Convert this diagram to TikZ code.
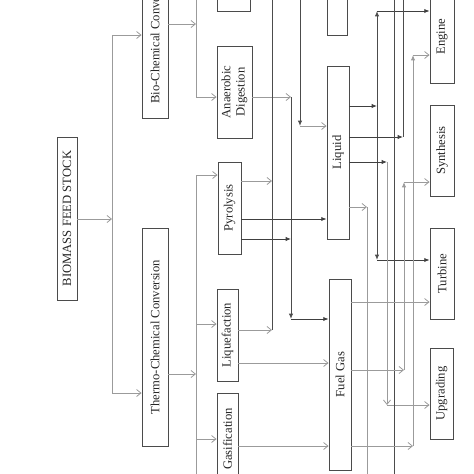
\documentclass[tikz,border=0pt]{standalone}
\usepackage{fontspec}
\setmainfont{Liberation Serif}
\usetikzlibrary{arrows.meta, positioning}
\definecolor{linegray}{RGB}{155, 155, 155}
\definecolor{boxgray}{RGB}{75, 75, 75}

\begin{document}
\begin{tikzpicture}[x=0.02cm, y=-0.02cm,
  box/.style={draw=boxgray, line width=0.5pt, rotate=90, inner sep=0pt, align=center,
              font=\fontsize{7.2}{8}\selectfont, text=black!85},
  garr/.style={draw=linegray, line width=0.45pt, -{Straight Barb[length=2.5pt, width=4pt]}},
  barr/.style={draw=black!75, line width=0.45pt, -{Latex[length=3pt, width=2.4pt]}},
  gline/.style={draw=linegray, line width=0.45pt},
  bline/.style={draw=black!70, line width=0.5pt},
  tipb/.style={-{Latex[length=3pt, width=2.4pt]}},
]
\useasboundingbox (0,0) rectangle (474,474);
\clip (0,0) rectangle (474,474);

% Feed stock and conversion routes
\node[box, minimum width=3.26cm, minimum height=0.4cm] (feed) at (67,218.5) {BIOMASS FEED STOCK};
\node[box, minimum width=3.22cm, minimum height=0.52cm] (bio) at (155,37.5) {Bio-Chemical Conversion};
\node[box, minimum width=4.36cm, minimum height=0.52cm] (thermo) at (155,337) {Thermo-Chemical Conversion};

% Processes
\node[box, minimum width=1.84cm, minimum height=0.66cm] (ferm) at (233.5,-35) {};
\node[box, minimum width=1.84cm, minimum height=0.7cm] (anaer) at (234.5,92) {Anaerobic\\Digestion};
\node[box, minimum width=1.84cm, minimum height=0.46cm] (pyro) at (229.5,208) {Pyrolysis};
\node[box, minimum width=1.84cm, minimum height=0.42cm] (liquef) at (227.5,335) {Liquefaction};
\node[box, minimum width=1.84cm, minimum height=0.42cm] (gasif) at (227.5,439) {Gasification};

% Intermediate products
\node[box, minimum width=1.84cm, minimum height=0.4cm] (liqtop) at (337,-11) {};
\node[box, minimum width=3.46cm, minimum height=0.44cm] (liquid) at (338,152.5) {Liquid};
\node[box, minimum width=3.82cm, minimum height=0.44cm] (fuel) at (340,374.5) {Fuel Gas};

% End uses
\node[box, minimum width=1.86cm, minimum height=0.48cm] (engine) at (442,36.5) {Engine};
\node[box, minimum width=1.82cm, minimum height=0.48cm] (synth) at (442,150.5) {Synthesis};
\node[box, minimum width=1.82cm, minimum height=0.48cm] (turbine) at (442,273.5) {Turbine};
\node[box, minimum width=1.82cm, minimum height=0.46cm] (upgrad) at (441.5,393.5) {Upgrading};

% Junctions
\coordinate (fs) at (112,219);  \coordinate (fsT) at (112,35);  \coordinate (fsB) at (112,393);
\coordinate (bb) at (196,24);   \coordinate (bbT) at (196,-35); \coordinate (bbB) at (196,97);
\coordinate (tb) at (196,374);  \coordinate (tbT) at (196,175); \coordinate (tbM) at (196,324);
\coordinate (tbB) at (196,439); \coordinate (tbE) at (196,500);
\coordinate (ad) at (291,97);   \coordinate (adB) at (291,319);
\coordinate (py) at (272,181);  \coordinate (pyT) at (272,-60); \coordinate (pyB) at (272,330);
\coordinate (lqT) at (300,-60); \coordinate (lq) at (300,126);
\coordinate (l1) at (377,106);  \coordinate (l1T) at (377,11);  \coordinate (l1B) at (377,260);
\coordinate (l2) at (403,137);  \coordinate (l2T) at (403,-60);
\coordinate (l3) at (387,162);  \coordinate (l3B) at (387,405);
\coordinate (l4) at (367,207);  \coordinate (l4B) at (367,500);
\coordinate (mT) at (394,-60);  \coordinate (mB) at (394,500);
\coordinate (f1) at (404,370);  \coordinate (f1T) at (404,182);
\coordinate (f2) at (413,446);  \coordinate (f2T) at (413,55);

% Feed stock to routes
\draw[garr] (feed.south |- fs) -- (fs);
\draw[gline] (fsT) -- (fsB);
\draw[garr] (fsT) -- (bio.north |- fsT);
\draw[garr] (fsB) -- (thermo.north |- fsB);

% Routes to processes
\draw[garr] (bio.south |- bb) -- (bb);
\draw[gline] (bbT) -- (bbB);
\draw[garr] (bbT) -- (ferm.north |- bbT);
\draw[garr] (bbB) -- (anaer.north |- bbB);
\draw[garr] (thermo.south |- tb) -- (tb);
\draw[gline] (tbT) -- (tbE);
\draw[garr] (tbT) -- (pyro.north |- tbT);
\draw[garr] (tbM) -- (liquef.north |- tbM);
\draw[garr] (tbB) -- (gasif.north |- tbB);

% Processes to products
\draw[garr] (anaer.south |- ad) -- (ad);
\draw[bline, tipb] (ad) -- (adB);
\draw[barr] (adB) -- (fuel.north |- adB);
\draw[barr] (pyro.south |- 0,239) -- (ad |- 0,239);
\draw[barr] (pyro.south |- 0,219) -- (liquid.north |- 0,219);
\draw[garr] (pyro.south |- py) -- (py);
\draw[bline] (pyT) -- (pyB);
\draw[garr] (liquef.south |- pyB) -- (pyB);
\draw[bline, tipb] (lqT) -- (lq);
\draw[garr] (lq) -- (liquid.north |- lq);
\draw[garr] (liquef.south |- 0,363) -- (fuel.north |- 0,363);
\draw[garr] (gasif.south |- 0,446) -- (fuel.north |- 0,446);

% Liquid to end uses
\draw[barr] (liquid.south |- l1) -- (l1);
\draw[bline, tipb] (l1) -- (l1T);
\draw[bline, tipb] (l1) -- (l1B);
\draw[barr] (l1T) -- (engine.north |- l1T);
\draw[barr] (l1B) -- (turbine.north |- l1B);
\draw[barr] (liquid.south |- l2) -- (l2);
\draw[bline] (l2T) -- (l2);
\draw[barr] (liquid.south |- l3) -- (l3);
\draw[garr] (l3) -- (l3B);
\draw[garr] (l3B) -- (upgrad.north |- l3B);
\draw[garr] (liquid.south |- l4) -- (l4);
\draw[gline] (l4) -- (l4B);
\draw[bline] (mT) -- (mB);

% Fuel gas to end uses
\draw[garr] (fuel.south |- 0,302) -- (turbine.north |- 0,302);
\draw[garr] (fuel.south |- f1) -- (f1);
\draw[gline, tipb] (f1) -- (f1T);
\draw[garr] (f1T) -- (synth.north |- f1T);
\draw[garr] (fuel.south |- f2) -- (f2);
\draw[gline, tipb] (f2) -- (f2T);
\draw[garr] (f2T) -- (engine.north |- f2T);
\end{tikzpicture}
\end{document}
